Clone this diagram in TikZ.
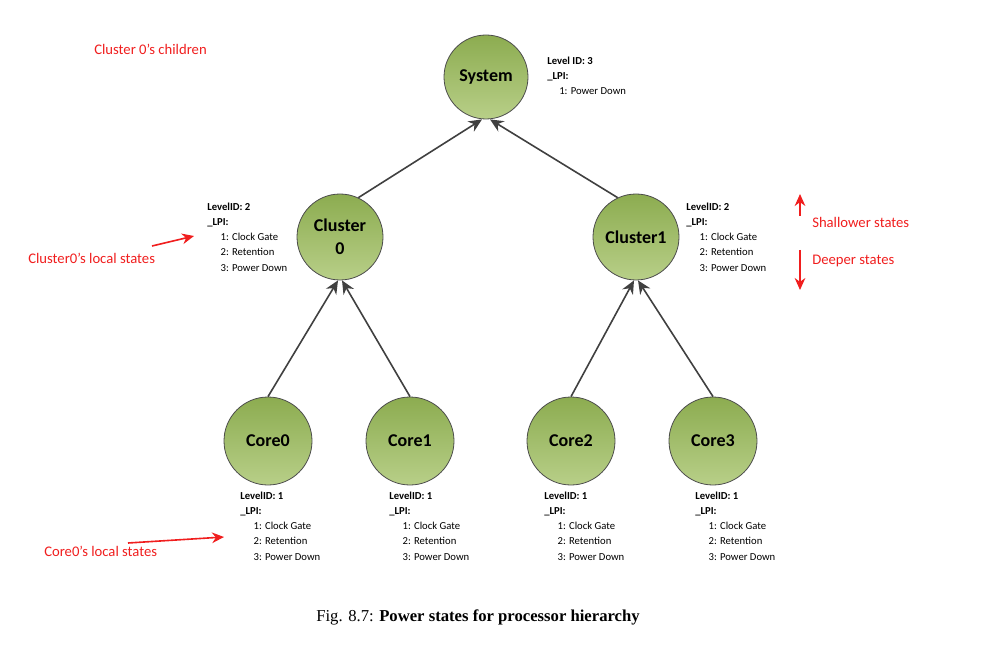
\documentclass[tikz,border=0pt]{standalone}
\usepackage{fontspec}
\setmainfont{Carlito}
\newfontfamily\capfont{Liberation Serif}
\usetikzlibrary{arrows.meta}
\definecolor{redc}{RGB}{240,30,30}
\definecolor{gtop}{RGB}{140,172,80}
\definecolor{gbot}{RGB}{184,207,136}
\begin{document}
\begin{tikzpicture}[x=0.75pt,y=-0.75pt,
  st/.style={circle,draw=black!70,line width=0.6pt,top color=gtop,bottom color=gbot,minimum size=#1*0.75pt,inner sep=0pt,font=\fontsize{13.5}{15}\selectfont\bfseries,align=center},
  conn/.style={draw=black!75,line width=1.2pt,-{Stealth[length=10pt,width=9pt]}},
  info/.style={anchor=north west,inner sep=0pt,align=left,font=\fontsize{8}{11.3}\selectfont},
  lab/.style={anchor=west,inner sep=0pt,text=redc,font=\fontsize{11}{13}\selectfont},
  rarr/.style={redc,line width=1.2pt,-{Stealth[length=9pt,width=8pt]}}]
\useasboundingbox (0,0) rectangle (988,645);
\node[st=84] (sys) at (486,77) {System};
\node[st=86] (c0) at (340,237) {Cluster\\[2pt]0};
\node[st=86] (c1) at (636,237) {Cluster1};
\node[st=88] (k0) at (268,441) {Core0};
\node[st=88] (k1) at (410,441) {Core1};
\node[st=88] (k2) at (571,441) {Core2};
\node[st=88] (k3) at (713,441) {Core3};
\draw[conn] (c0.65) -- ([xshift=-3pt]sys.south);
\draw[conn] (c1.115) -- ([xshift=3pt]sys.south);
\draw[conn] (k0.north) -- ([xshift=-1.5pt]c0.south);
\draw[conn] (k1.north) -- ([xshift=1.5pt]c0.south);
\draw[conn] (k2.north) -- ([xshift=-1.5pt]c1.south);
\draw[conn] (k3.north) -- ([xshift=1.5pt]c1.south);
\node[info] (isys) at (547,57) {\textbf{Level ID: 3}\\\textbf{\_LPI:}\\\hspace{9pt}1: Power Down};
\node[info] (ic0) at (207,203) {\textbf{LevelID: 2}\\\textbf{\_LPI:}\\\hspace{10pt}1: Clock Gate\\\hspace{10pt}2: Retention\\\hspace{10pt}3: Power Down};
\node[info] (ic1) at (686,203) {\textbf{LevelID: 2}\\\textbf{\_LPI:}\\\hspace{10pt}1: Clock Gate\\\hspace{10pt}2: Retention\\\hspace{10pt}3: Power Down};
\node[info] (ik0) at (240,492) {\textbf{LevelID: 1}\\\textbf{\_LPI:}\\\hspace{10pt}1: Clock Gate\\\hspace{10pt}2: Retention\\\hspace{10pt}3: Power Down};
\node[info] (ik1) at (389,492) {\textbf{LevelID: 1}\\\textbf{\_LPI:}\\\hspace{10pt}1: Clock Gate\\\hspace{10pt}2: Retention\\\hspace{10pt}3: Power Down};
\node[info] (ik2) at (544,492) {\textbf{LevelID: 1}\\\textbf{\_LPI:}\\\hspace{10pt}1: Clock Gate\\\hspace{10pt}2: Retention\\\hspace{10pt}3: Power Down};
\node[info] (ik3) at (695,492) {\textbf{LevelID: 1}\\\textbf{\_LPI:}\\\hspace{10pt}1: Clock Gate\\\hspace{10pt}2: Retention\\\hspace{10pt}3: Power Down};
\node[lab] (l1) at (94,49) {Cluster 0's children};
\node[lab] (l2) at (28,258) {Cluster0's local states};
\node[lab] (l3) at (44,551) {Core0's local states};
\node[lab] (l4) at (812,222) {Shallower states};
\node[lab] (l5) at (812,261) {Deeper states};
\coordinate (a1s) at (152,246); \coordinate (a1e) at (194,236);
\coordinate (a2s) at (128,543); \coordinate (a2e) at (224,537);
\coordinate (a3s) at (800,216); \coordinate (a3e) at (800,194);
\coordinate (a4s) at (800,250); \coordinate (a4e) at (800,290);
\draw[rarr] (a1s) -- (a1e);
\draw[rarr] (a2s) -- (a2e);
\draw[rarr] (a3s) -- (a3e);
\draw[rarr] (a4s) -- (a4e);
\node[inner sep=0pt,font=\capfont\fontsize{12.5}{14}\selectfont] (cap) at (478,617) {Fig. 8.7: \textbf{Power states for processor hierarchy}};
\end{tikzpicture}
\end{document}
